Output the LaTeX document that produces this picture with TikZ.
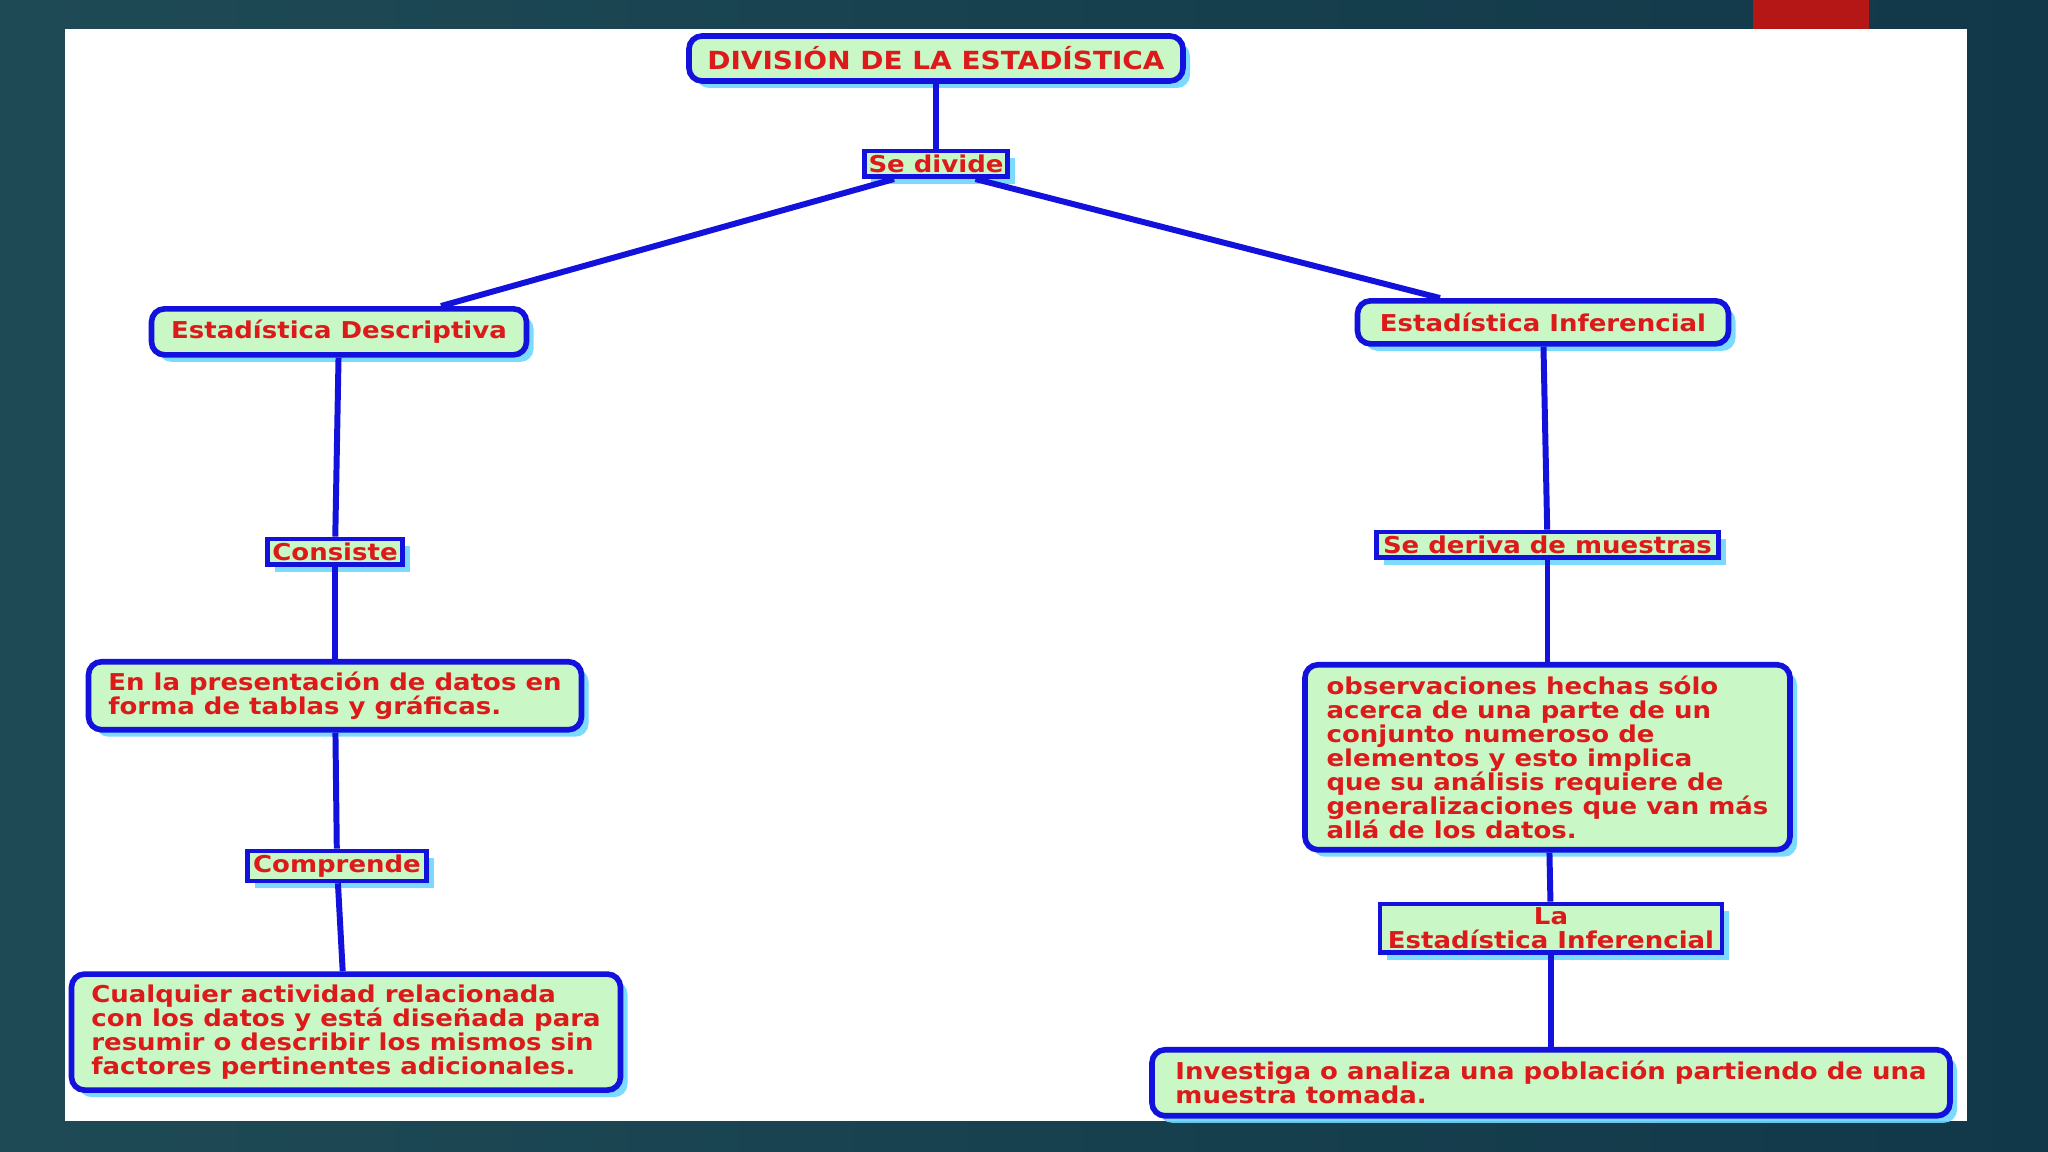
\documentclass[tikz,border=0pt]{standalone}
\usepackage{fontspec}
\setmainfont{DejaVu Sans}[FakeStretch=1.12]
\usetikzlibrary{positioning,shadows}
\definecolor{cmBlue}{HTML}{1212DC}
\definecolor{cmRed}{HTML}{DC1A1A}
\definecolor{cmGreen}{HTML}{C9F7C6}
\definecolor{cmShadow}{HTML}{6FD6FF}
\definecolor{bgLeft}{HTML}{1E4A55}
\definecolor{bgRight}{HTML}{113849}
\definecolor{barRed}{HTML}{B51616}
\setlength{\lineskiplimit}{-10pt}

\begin{document}
\begin{tikzpicture}[node distance=1cm]
\tikzstyle{concept}=[draw=cmBlue, line width=1.6pt, rounded corners=0.13cm, fill=cmGreen, text=cmRed, font=\bfseries\fontsize{6.6}{6.8}\selectfont, align=left, inner sep=1pt, drop shadow={shadow xshift=0.07cm, shadow yshift=-0.07cm, fill=cmShadow, opacity=0.9}]
\tikzstyle{link}=[concept, sharp corners, align=center, line width=1.3pt, inner xsep=1.2pt, inner ysep=1.1pt]
\tikzstyle{wire}=[draw=cmBlue, line width=1.7pt]

% slide background
\useasboundingbox (0,0) rectangle (20.48,11.52);
\shade[left color=bgLeft, right color=bgRight] (0,0) rectangle (20.48,11.52);
\fill[white] (0.65,0.31) rectangle (19.67,11.23);
\fill[barRed] (17.53,11.23) rectangle (18.69,11.52);

% concept map
\node[concept, align=center, font=\bfseries\fontsize{7.1}{8}\selectfont, minimum width=4.94cm, minimum height=0.45cm] (title) at (9.36,10.935) {DIVISIÓN DE LA ESTADÍSTICA};
\node[link, minimum width=1.43cm, minimum height=0.2cm, below=0.65cm of title] (divide) {Se divide};
\node[concept, align=center, minimum width=3.75cm, minimum height=0.46cm, below=1.27cm of divide, xshift=-5.97cm] (desc) {Estadística Descriptiva};
\node[concept, align=center, minimum width=3.71cm, minimum height=0.43cm, below=1.19cm of divide, xshift=6.07cm] (infer) {Estadística Inferencial};

\node[link, minimum width=1.35cm, minimum height=0.22cm, below=1.79cm of desc, xshift=-0.04cm] (consiste) {Consiste};
\node[concept, minimum width=4.93cm, minimum height=0.68cm, below=0.92cm of consiste] (present) {En la presentación de datos en\\forma de tablas y gráficas.};
\node[link, minimum width=1.79cm, minimum height=0.23cm, below=1.16cm of present, xshift=0.02cm] (comprende) {Comprende};
\node[concept, minimum width=5.49cm, minimum height=1.16cm, below=0.88cm of comprende, xshift=0.09cm] (activity) {Cualquier actividad relacionada\\con los datos y está diseñada para\\resumir o describir los mismos sin\\factores pertinentes adicionales.};

\node[link, minimum width=3.42cm, minimum height=0.19cm, below=1.83cm of infer, xshift=0.045cm] (deriva) {Se deriva de muestras};
\node[concept, minimum width=4.85cm, minimum height=1.85cm, below=1.02cm of deriva] (observ) {observaciones hechas sólo\\acerca de una parte de un\\conjunto numeroso de\\elementos y esto implica\\que su análisis requiere de\\generalizaciones que van más\\allá de los datos.};
\node[link, minimum width=3.42cm, minimum height=0.43cm, below=0.49cm of observ, xshift=0.035cm] (la) {La\\Estadística Inferencial};
\node[concept, minimum width=7.98cm, minimum height=0.66cm, below=0.92cm of la] (investiga) {Investiga o analiza una población partiendo de una\\muestra tomada.};

\draw[wire] (title) -- (divide);
\draw[wire] ([xshift=0.32cm]divide.south west) -- ([xshift=1.02cm]desc.north);
\draw[wire] ([xshift=-0.345cm]divide.south east) -- ([xshift=-1.03cm]infer.north);
\draw[wire] (desc) -- (consiste);
\draw[wire] (consiste) -- (present);
\draw[wire] (present) -- (comprende);
\draw[wire] (comprende) -- (activity);
\draw[wire] (infer) -- (deriva);
\draw[wire] (deriva) -- (observ);
\draw[wire] (observ) -- (la);
\draw[wire] (la) -- (investiga);
\end{tikzpicture}
\end{document}
